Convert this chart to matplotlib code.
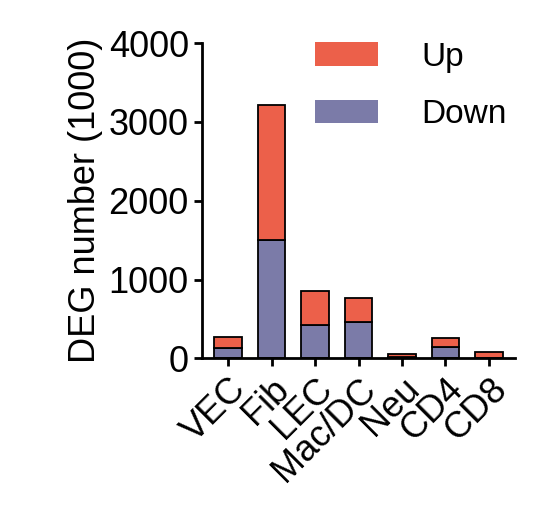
import matplotlib
matplotlib.use("Agg")
import matplotlib.pyplot as plt
import numpy as np

plt.rcParams['font.family'] = ['Liberation Sans', 'DejaVu Sans']

categories = ["VEC", "Fib", "LEC", "Mac/DC", "Neu", "CD4", "CD8"]
down = [135, 1503, 428, 457, 20, 148, 5]
total = [275, 3217, 860, 770, 50, 254, 80]
up = [t - d for t, d in zip(total, down)]

fig = plt.figure(figsize=(5.58, 5.20), dpi=100)
ax = fig.add_axes([0.362, 0.311, 0.561, 0.606])
x = np.arange(len(categories))
ax.bar(x, down, width=0.63, color='#7b7ba8', edgecolor='black', linewidth=1.3, label='Down')
ax.bar(x, up, bottom=down, width=0.63, color='#ec604a', edgecolor='black', linewidth=1.3, label='Up')
ax.set_ylim(0, 4000)
ax.set_xlim(-0.6, 6.6)
ax.set_yticks([0, 1000, 2000, 3000, 4000])
ax.set_xticks(x)
ax.set_xticklabels(categories, rotation=45, ha='right', rotation_mode='anchor')
ax.tick_params(labelsize=26, width=2, length=6)
for s in ['top', 'right']:
    ax.spines[s].set_visible(False)
for s in ['left', 'bottom']:
    ax.spines[s].set_linewidth(2)
ax.set_ylabel('DEG number (1000)', fontsize=26)
h, l = ax.get_legend_handles_labels()
ax.legend(h[::-1], l[::-1], loc='upper right', bbox_to_anchor=(1.07, 1.1), frameon=False,
          fontsize=24, handlelength=1.9, handleheight=0.7, labelspacing=0.8, handletextpad=1.3)
for t in ax.get_legend().get_patches():
    t.set_edgecolor('none')
fig.savefig('out.png', dpi=100)
